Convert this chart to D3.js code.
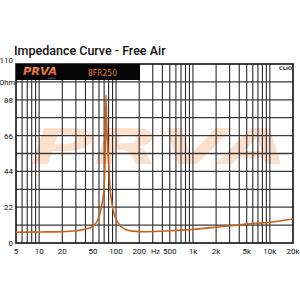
<!DOCTYPE html>
<html>
<head>
<meta charset="utf-8">
<script src="https://cdn.jsdelivr.net/npm/d3@7"></script>
<style>
  body { margin: 0; background: #fff; }
  svg { display: block; }
</style>
</head>
<body>
<div id="chart"></div>
<script>
const width = 300
const height = 300
const margin = { top: 64, bottom: 57, left: 16, right: 7 }

// Datos
const freqs = [5, 10, 20, 30, 37, 45, 50.5, 57.6, 61.7, 66.8, 70, 72.3, 74, 76, 80, 83, 91, 106, 130, 165, 240, 500, 1000, 2000, 5000, 10000, 20000]
const ohms  = [6.6, 6.8, 7.0, 7.5, 8.2, 9.2, 10.5, 14, 18, 26, 35, 55, 91, 70, 50, 36, 21, 12.5, 8.5, 7.3, 6.9, 7.5, 8.4, 9.7, 11.6, 12.8, 14.8]
const xTicks = [5, 10, 20, 50, 100, 200, 500, 1000, 2000, 5000, 10000, 20000]
const xTickLabels = ["5", "10", "20", "50", "100", "200", "500", "1k", "2k", "5k", "10k", "20k"]
const yTicks = [0, 22, 44, 66, 88, 110]
const yGrid = [11, 22, 33, 44, 55, 66, 77, 88, 99]

const data = freqs.map((f, i) => ({ f: f, z: ohms[i] }))

const svg = d3.select("#chart").append("svg")
  .attr("width", width).attr("height", height)

const x = d3.scaleLog().domain([5, 20000]).range([margin.left, width - margin.right])
const y = d3.scaleLinear().domain([0, 110]).range([height - margin.bottom, margin.top])

// titulo
svg.append("text")
  .attr("x", 14).attr("y", 55)
  .attr("font-family", "Roboto, sans-serif").attr("font-size", 12.5).attr("font-weight", 500)
  .attr("fill", "#111")
  .text("Impedance Curve - Free Air")

// marca de agua
svg.append("text")
  .attr("x", 30).attr("y", 164)
  .attr("font-family", "DejaVu Sans, sans-serif").attr("font-size", 50)
  .attr("font-weight", "bold").attr("font-style", "italic")
  .attr("fill", "#fce0ce")
  .attr("textLength", 258).attr("lengthAdjust", "spacingAndGlyphs")
  .text("PRVA")

// grid vertical
const minor = []
for (let d = 1; d <= 10000; d *= 10) {
  for (let k = 1; k <= 9; k++) {
    const v = d * k
    if (v > 5 && v < 20000) minor.push(v)
  }
}
svg.append("g").selectAll("line").data(minor).enter().append("line")
  .attr("x1", d => x(d)).attr("x2", d => x(d))
  .attr("y1", y(110)).attr("y2", y(0))
  .attr("stroke", "#2a2a2a").attr("stroke-width", 1.1)

// grid horizontal
svg.append("g").selectAll("line").data(yGrid).enter().append("line")
  .attr("x1", x(5)).attr("x2", x(20000))
  .attr("y1", d => y(d)).attr("y2", d => y(d))
  .attr("stroke", "#3a3a3a").attr("stroke-width", 1.3)

// marco
svg.append("rect")
  .attr("x", x(5)).attr("y", y(110))
  .attr("width", x(20000) - x(5)).attr("height", y(0) - y(110))
  .attr("fill", "none").attr("stroke", "#111").attr("stroke-width", 1.6)

// cabecera negra
svg.append("rect")
  .attr("x", x(5)).attr("y", y(110))
  .attr("width", 124).attr("height", 16)
  .attr("fill", "#050505")

const grad = svg.append("defs").append("linearGradient")
  .attr("id", "logoGrad").attr("x1", 0).attr("x2", 0).attr("y1", 0).attr("y2", 1)
grad.append("stop").attr("offset", "0%").attr("stop-color", "#ff9a5a")
grad.append("stop").attr("offset", "100%").attr("stop-color", "#d9541a")

svg.append("text")
  .attr("x", 23).attr("y", 75)
  .attr("font-family", "DejaVu Sans, sans-serif").attr("font-size", 10)
  .attr("font-weight", "bold").attr("font-style", "italic")
  .attr("fill", "url(#logoGrad)")
  .attr("textLength", 34).attr("lengthAdjust", "spacingAndGlyphs")
  .text("PRVA")
svg.append("text")
  .attr("x", 56).attr("y", 78.5).attr("text-anchor", "end")
  .attr("font-family", "DejaVu Sans, sans-serif").attr("font-size", 2.5)
  .attr("fill", "#999")
  .text("AUDIO")

svg.append("text")
  .attr("x", 88).attr("y", 75.5)
  .attr("font-family", "DejaVu Sans, sans-serif").attr("font-size", 9)
  .attr("fill", "#f0763a")
  .attr("textLength", 29).attr("lengthAdjust", "spacingAndGlyphs")
  .text("8FR250")

svg.append("text")
  .attr("x", 292).attr("y", 70).attr("text-anchor", "end")
  .attr("font-family", "DejaVu Sans, sans-serif").attr("font-size", 5)
  .attr("font-weight", "bold").attr("fill", "#333")
  .text("CLIO")

// curva
const line = d3.line()
  .x(d => x(d.f)).y(d => y(d.z))
  .curve(d3.curveMonotoneX)

svg.append("path").datum(data)
  .attr("d", line)
  .attr("fill", "none").attr("stroke", "#c8621c").attr("stroke-width", 1.6)

// etiquetas eje y
svg.append("g").selectAll("text").data(yTicks).enter().append("text")
  .attr("x", 13).attr("y", d => y(d) + (d === 110 ? -1 : 3))
  .attr("text-anchor", "end")
  .attr("font-family", "Roboto, sans-serif").attr("font-size", 8)
  .attr("fill", "#111")
  .text(d => d)
svg.append("text")
  .attr("x", 15).attr("y", y(99) + 3).attr("text-anchor", "end")
  .attr("font-family", "Roboto, sans-serif").attr("font-size", 7.5)
  .attr("fill", "#111")
  .text("Ohm")

// etiquetas eje x
svg.append("g").selectAll("text").data(xTicks).enter().append("text")
  .attr("x", d => x(d)).attr("y", 254)
  .attr("text-anchor", "middle")
  .attr("font-family", "Roboto, sans-serif").attr("font-size", 8)
  .attr("fill", "#111")
  .text((d, i) => xTickLabels[i])
svg.append("text")
  .attr("x", 155.5).attr("y", 254).attr("text-anchor", "middle")
  .attr("font-family", "Roboto, sans-serif").attr("font-size", 7.5)
  .attr("fill", "#111")
  .text("Hz")
</script>
</body>
</html>
